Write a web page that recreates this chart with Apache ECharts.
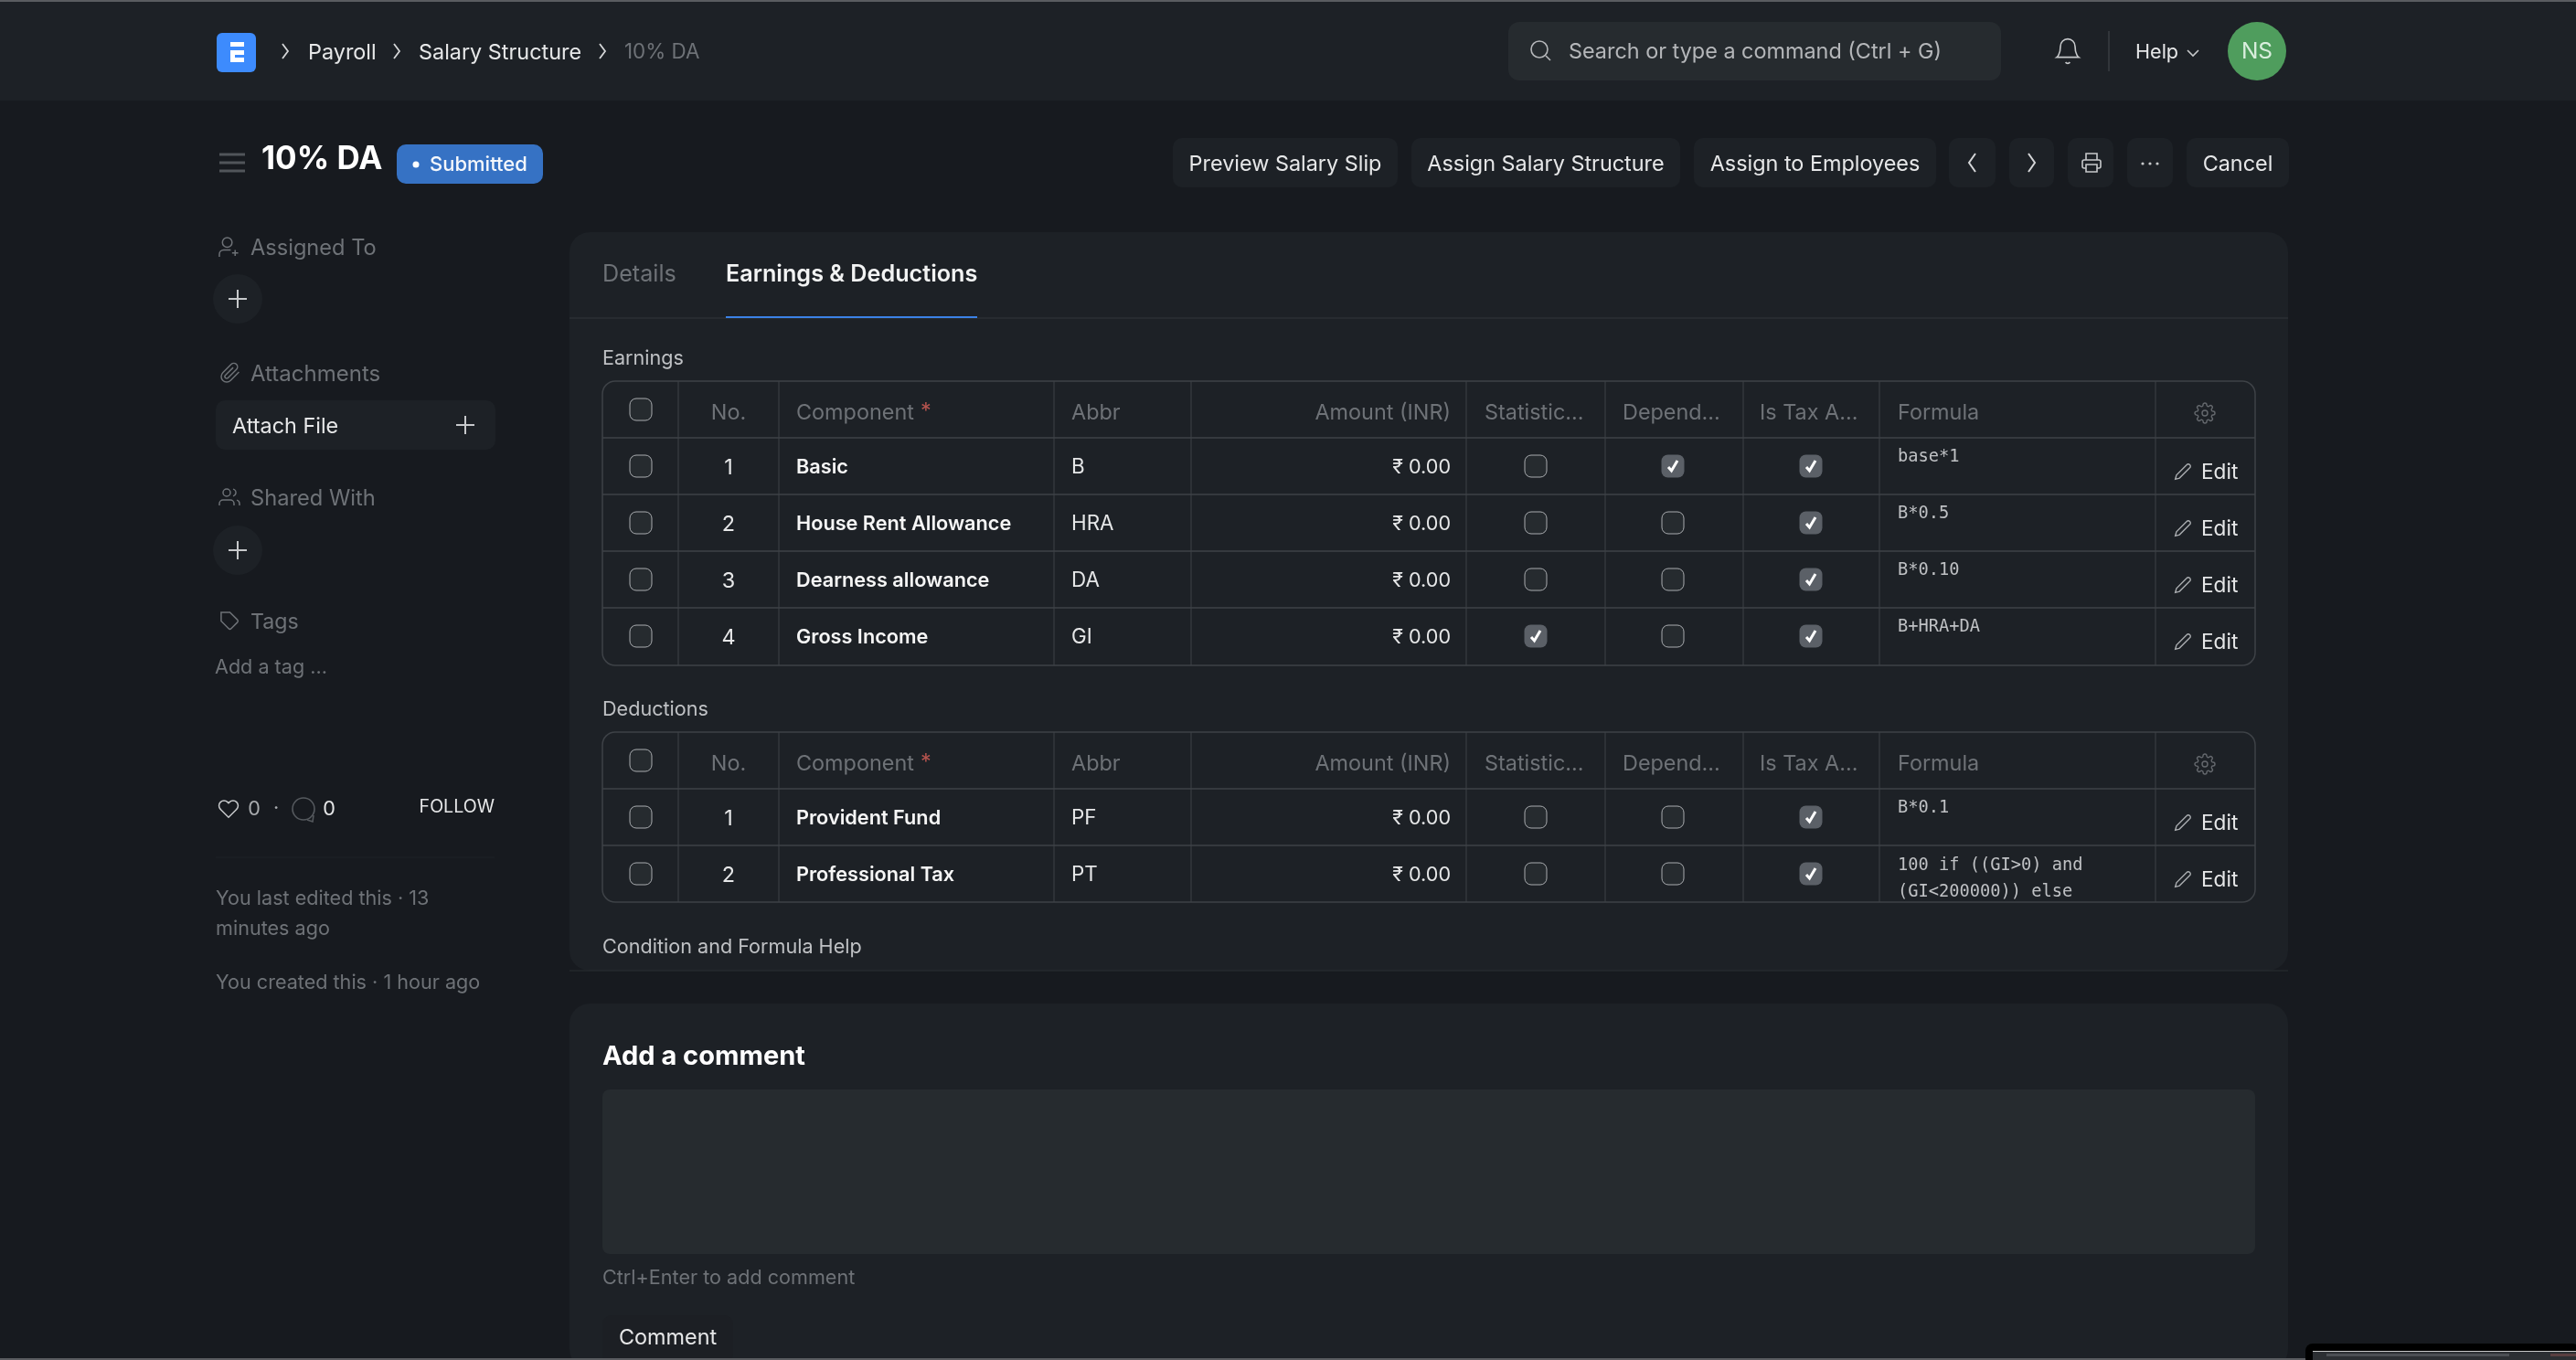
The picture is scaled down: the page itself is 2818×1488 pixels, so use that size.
<!DOCTYPE html>
<html>
<head>
	<meta charset="UTF-8">
	<title>10% DA</title>
	<style>
		html, body { margin: 0; padding: 0; background: #171a1f; overflow: hidden; }
		#main { width: 2818px; height: 1488px; }
	</style>
</head>
<body>
	<div id="main"></div>
	<script src="https://cdn.jsdelivr.net/npm/echarts@6/dist/echarts.min.js"></script>
	<script>
	// table text
	var tableHeaders = ['No.', 'Component', 'Abbr', 'Amount (INR)', 'Statistic...', 'Depend...', 'Is Tax A...', 'Formula'];

	var earningsNo = ['1', '2', '3', '4'];
	var earningsComponent = ['Basic', 'House Rent Allowance', 'Dearness allowance', 'Gross Income'];
	var earningsAbbr = ['B', 'HRA', 'DA', 'GI'];
	var earningsAmount = ['₹ 0.00', '₹ 0.00', '₹ 0.00', '₹ 0.00'];
	var earningsStatistic = [0, 0, 0, 1];
	var earningsDepend = [1, 0, 0, 0];
	var earningsTax = [1, 1, 1, 1];
	var earningsFormula = [['base*1'], ['B*0.5'], ['B*0.10'], ['B+HRA+DA']];

	var deductionsNo = ['1', '2'];
	var deductionsComponent = ['Provident Fund', 'Professional Tax'];
	var deductionsAbbr = ['PF', 'PT'];
	var deductionsAmount = ['₹ 0.00', '₹ 0.00'];
	var deductionsStatistic = [0, 0];
	var deductionsDepend = [0, 0];
	var deductionsTax = [1, 1];
	var deductionsFormula = [['B*0.1'], ['100 if ((GI>0) and', '(GI<200000)) else']];

	var breadcrumbs = ['Payroll', 'Salary Structure', '10% DA'];
	var toolbarButtons = ['Preview Salary Slip', 'Assign Salary Structure', 'Assign to Employees'];
	var sidebarLabels = ['Assigned To', 'Attachments', 'Shared With', 'Tags'];

	// colours
	var bgPage = '#171a1f', bgCard = '#1d2126', bgInput = '#262b2f', lineCol = '#3e4247';
	var textMain = '#e6e7e8', textMuted = '#6e7277', textSoft = '#bfc1c4', textWhite = '#f6f6f6';
	var sans = 'Inter, "Noto Sans", "DejaVu Sans", sans-serif';
	var mono = '"DejaVu Sans Mono", monospace';

	// icon outlines, all on a 24 unit box
	var iconPaths = {
		iconBell: 'M18 8A6 6 0 0 0 6 8c0 7-3 9-3 9h18s-3-2-3-9 M13.73 21a2 2 0 0 1-3.46 0',
		iconPrinter: 'M6 9V2h12v7 M6 18H4a2 2 0 0 1-2-2v-5a2 2 0 0 1 2-2h16a2 2 0 0 1 2 2v5a2 2 0 0 1-2 2h-2 M6 14h12v8H6z',
		iconPencil: 'M17 3a2.83 2.83 0 1 1 4 4L7.5 20.5 2 22l1.5-5.5L17 3z',
		iconClip: 'M21.44 11.05l-9.19 9.19a6 6 0 0 1-8.49-8.49l9.19-9.19a4 4 0 0 1 5.66 5.66l-9.2 9.19a2 2 0 0 1-2.83-2.83l8.49-8.48',
		iconTag: 'M20.59 13.41l-7.17 7.17a2 2 0 0 1-2.83 0L2 12V2h10l8.59 8.59a2 2 0 0 1 0 2.82z',
		iconHeart: 'M20.84 4.61a5.5 5.5 0 0 0-7.78 0L12 5.67l-1.06-1.06a5.5 5.5 0 0 0-7.78 7.78l1.06 1.06L12 21.23l7.78-7.78 1.06-1.06a5.5 5.5 0 0 0 0-7.78z',
		iconUsers: 'M17 21v-2a4 4 0 0 0-4-4H5a4 4 0 0 0-4 4v2 M9 3a4 4 0 1 0 0 8 4 4 0 0 0 0-8z M23 21v-2a4 4 0 0 0-3-3.87 M16 3.13a4 4 0 0 1 0 7.75',
		iconUser: 'M1 23v-3a5 5 0 0 1 5-5h8 M10 1a5 5 0 1 0 0 11 5 5 0 0 0 0-11z M19 15v7 M15.5 18.5h7',
		iconGear: 'M19.4 15a1.65 1.65 0 0 0 .33 1.82l.06.06a2 2 0 0 1 0 2.83 2 2 0 0 1-2.83 0l-.06-.06a1.65 1.65 0 0 0-1.82-.33 1.65 1.65 0 0 0-1 1.51V21a2 2 0 0 1-2 2 2 2 0 0 1-2-2v-.09A1.65 1.65 0 0 0 9 19.4a1.65 1.65 0 0 0-1.82.33l-.06.06a2 2 0 0 1-2.83 0 2 2 0 0 1 0-2.83l.06-.06a1.65 1.65 0 0 0 .33-1.82 1.65 1.65 0 0 0-1.51-1H3a2 2 0 0 1-2-2 2 2 0 0 1 2-2h.09A1.65 1.65 0 0 0 4.6 9a1.65 1.65 0 0 0-.33-1.82l-.06-.06a2 2 0 0 1 0-2.83 2 2 0 0 1 2.83 0l.06.06a1.65 1.65 0 0 0 1.82.33H9a1.65 1.65 0 0 0 1-1.51V3a2 2 0 0 1 2-2 2 2 0 0 1 2 2v.09a1.65 1.65 0 0 0 1 1.51 1.65 1.65 0 0 0 1.82-.33l.06-.06a2 2 0 0 1 2.83 0 2 2 0 0 1 0 2.83l-.06.06a1.65 1.65 0 0 0-.33 1.82V9a1.65 1.65 0 0 0 1.51 1H21a2 2 0 0 1 2 2 2 2 0 0 1-2 2h-.09a1.65 1.65 0 0 0-1.51 1z M12 9a3 3 0 1 0 0 6 3 3 0 0 0 0-6z'
	};
	for (var name in iconPaths) {
		echarts.graphic.registerShape(name, echarts.graphic.extendPath(iconPaths[name], {}));
	}

	var els = [];

	function txt(s, x, y, size, color, weight, align, family) {
		els.push({ type: 'text', z: 5, x: x, y: y + 1.5, style: {
			text: s, fill: color, font: (weight || 400) + ' ' + size + 'px ' + (family || sans),
			align: align || 'left', verticalAlign: 'middle'
		}});
	}
	function box(x, y, w, h, fill, r, stroke, lw) {
		els.push({ type: 'rect', z: 2, shape: { x: x, y: y, width: w, height: h, r: r || 0 },
			style: { fill: fill, stroke: stroke || null, lineWidth: lw || 0 } });
	}
	function seg(x1, y1, x2, y2, color, lw) {
		els.push({ type: 'line', z: 3, shape: { x1: x1, y1: y1, x2: x2, y2: y2 },
			style: { stroke: color, lineWidth: lw || 1 } });
	}
	function poly(points, color, lw) {
		els.push({ type: 'polyline', z: 4, shape: { points: points },
			style: { stroke: color, lineWidth: lw || 2, fill: null } });
	}
	function icon(kind, x, y, w, h, color, lw) {
		var sx = w / 24, sy = h / 24;
		els.push({ type: kind, z: 4, x: x, y: y, scaleX: sx, scaleY: sy,
			style: { fill: null, stroke: color, lineWidth: (lw || 1.5) / ((sx + sy) / 2) } });
	}
	function circle(cx, cy, r, fill, stroke, lw) {
		els.push({ type: 'circle', z: 3, shape: { cx: cx, cy: cy, r: r },
			style: { fill: fill, stroke: stroke || null, lineWidth: lw || 0 } });
	}
	function plus(cx, cy, half, color) {
		seg(cx - half, cy, cx + half, cy, color, 2);
		seg(cx, cy - half, cx, cy + half, color, 2);
	}
	function checkbox(cx, cy, on) {
		if (on) {
			box(cx - 12.5, cy - 12.5, 25, 25, '#5b6067', 7);
			poly([[cx - 5, cy + 1], [cx - 1.5, cy + 5], [cx + 5, cy - 6]], '#ffffff', 3);
		} else {
			box(cx - 12, cy - 12, 24, 24, '#262b2f', 7, '#a9acaf', 1);
		}
	}

	// table layout
	var colLines = [742, 852, 1153, 1303, 1604, 1756, 1907, 2056, 2358];
	var tableLeft = 659, tableRight = 2467;

	function drawTable(top, rowLines, no, comp, abbr, amount, stat, dep, tax, formula) {
		var bottom = rowLines[rowLines.length - 1];
		box(tableLeft, top, tableRight - tableLeft, bottom - top, bgCard, 14, lineCol, 1.5);
		for (var c = 0; c < colLines.length; c++) {
			seg(colLines[c], top, colLines[c], bottom, lineCol, 1);
		}
		for (var l = 0; l < rowLines.length - 1; l++) {
			seg(tableLeft, rowLines[l], tableRight, rowLines[l], lineCol, 1.5);
		}
		// header row
		var hy = top + 33;
		checkbox(701, top + 31, false);
		txt(tableHeaders[0], 797, hy, 23.4, textMuted, 400, 'center');
		txt(tableHeaders[1], 871, hy, 23.4, textMuted);
		txt('*', 1007, hy - 2, 23.4, '#b5534e');
		txt(tableHeaders[2], 1172, hy, 23.4, textMuted);
		txt(tableHeaders[3], 1587, hy, 23.4, textMuted, 400, 'right');
		txt(tableHeaders[4], 1624, hy, 23.4, textMuted);
		txt(tableHeaders[5], 1775, hy, 23.4, textMuted);
		txt(tableHeaders[6], 1925, hy, 23.4, textMuted);
		txt(tableHeaders[7], 2076, hy, 23.4, textMuted);
		icon('iconGear', 2400, top + 23, 24, 24, '#65696e', 1.4);
		// body rows
		for (var i = 0; i < no.length; i++) {
			var rt = rowLines[i];
			var cy = rt + 31;
			checkbox(701, cy, false);
			txt(no[i], 797, cy, 23.4, textMain, 400, 'center');
			txt(comp[i], 871, cy, 21.7, textWhite, 600);
			txt(abbr[i], 1172, cy, 22.4, textMain);
			txt(amount[i], 1587, cy, 21.6, textMain, 400, 'right');
			checkbox(1680, cy, stat[i]);
			checkbox(1830, cy, dep[i]);
			checkbox(1981, cy, tax[i]);
			var lines = formula[i];
			if (lines.length == 1) {
				txt(lines[0], 2076, rt + 20, 18.7, textSoft, 400, 'left', mono);
			} else {
				txt(lines[0], 2076, rt + 21, 18.7, textSoft, 400, 'left', mono);
				txt(lines[1], 2076, rt + 50, 18.7, textSoft, 400, 'left', mono);
			}
			icon('iconPencil', 2378, rt + 27, 20, 20, '#a9acaf', 1.4);
			txt('Edit', 2408, rt + 37, 22.6, textMain);
		}
	}

	// top bar
	box(0, 0, 2818, 110, bgCard);
	box(0, 0, 2818, 2, '#5a5c60');
	box(237, 36, 43, 43, '#3d8bfd', 6);
	box(252, 46, 15, 5, '#ffffff');
	box(252, 55, 15, 5, '#ffffff');
	box(252, 55, 5, 13, '#ffffff');
	box(252, 63, 15, 5, '#ffffff');
	var crumbChevron = [312, 434, 659];
	for (var k = 0; k < 3; k++) {
		var cx = crumbChevron[k];
		poly([[cx - 3, 48], [cx + 3, 56], [cx - 3, 64]], '#d5d6d8', 1.8);
	}
	txt(breadcrumbs[0], 337, 56, 23.4, textMain);
	txt(breadcrumbs[1], 458, 56, 23.4, textMain);
	txt(breadcrumbs[2], 683, 56, 22.4, textMuted);

	box(1650, 24, 539, 64, bgInput, 12);
	circle(1684, 54, 9, null, '#b5b7ba', 1.6);
	seg(1691, 61, 1696, 66, '#b5b7ba', 1.6);
	txt('Search or type a command (Ctrl + G)', 1716, 55, 23.4, '#b4b6b9');
	icon('iconBell', 2246, 40, 32, 32, '#c7c9cb', 1.6);
	seg(2307, 34, 2307, 78, '#3a3e43', 1.5);
	txt('Help', 2336, 56, 21.6, textMain);
	poly([[2393, 55], [2399, 61], [2405, 55]], '#c7c9cb', 1.6);
	circle(2469, 56, 32, '#4f9d5d');
	txt('NS', 2469, 55.5, 24.5, '#d9eedd', 400, 'center');

	// title row
	seg(240, 169, 268, 169, '#51555a', 3);
	seg(240, 178, 268, 178, '#51555a', 3);
	seg(240, 187, 268, 187, '#51555a', 3);
	txt('10% DA', 286, 173, 35, '#ffffff', 700);
	box(434, 158, 160, 43, '#3672c4', 10);
	circle(455, 180, 3.5, '#ffffff');
	txt('Submitted', 470, 178.5, 22, '#f4f7fb', 500);

	var btnX = [1283, 1544, 1853];
	var btnW = [246, 294, 265];
	for (var b = 0; b < toolbarButtons.length; b++) {
		box(btnX[b], 151, btnW[b], 54, bgCard, 10);
		txt(toolbarButtons[b], btnX[b] + btnW[b] / 2, 178, 23.4, textMain, 400, 'center');
	}
	box(2132, 151, 51, 54, bgCard, 10);
	box(2198, 151, 49, 54, bgCard, 10);
	box(2262, 151, 50, 54, bgCard, 10);
	box(2327, 151, 50, 54, bgCard, 10);
	box(2392, 151, 112, 54, bgCard, 10);
	poly([[2161, 168], [2154, 178], [2161, 188]], '#d5d6d8', 2);
	poly([[2219, 168], [2226, 178], [2219, 188]], '#d5d6d8', 2);
	icon('iconPrinter', 2276, 166, 24, 24, '#c7c9cb', 1.6);
	circle(2344, 179, 1.6, '#c7c9cb');
	circle(2352, 179, 1.6, '#c7c9cb');
	circle(2360, 179, 1.6, '#c7c9cb');
	txt('Cancel', 2448, 178, 23.4, textMain, 400, 'center');

	// sidebar
	icon('iconUser', 239, 259, 23, 23, textMuted, 1.5);
	txt(sidebarLabels[0], 274, 270, 23.6, textMuted);
	circle(260, 327, 27, bgCard);
	plus(260, 327, 10, '#c7c9cb');
	icon('iconClip', 240, 396, 24, 24, textMuted, 1.5);
	txt(sidebarLabels[1], 274, 408, 24, textMuted);
	box(236, 438, 306, 54, bgCard, 10);
	txt('Attach File', 254, 465, 23.4, textMain);
	plus(509, 465, 10, '#c7c9cb');
	icon('iconUsers', 239, 532, 24, 24, textMuted, 1.5);
	txt(sidebarLabels[2], 274, 544, 23.7, textMuted);
	circle(260, 602, 27, bgCard);
	plus(260, 602, 10, '#c7c9cb');
	icon('iconTag', 240, 668, 23, 23, textMuted, 1.5);
	txt(sidebarLabels[3], 274, 680, 23.2, textMuted);
	txt('Add a tag ...', 235, 729, 21.6, textMuted);

	icon('iconHeart', 238, 873, 24, 24, '#c7c9cb', 1.5);
	txt('0', 278, 884, 21.6, '#a9acaf', 400, 'center');
	txt('·', 302, 883, 21.6, '#a9acaf', 400, 'center');
	circle(332, 885, 12, null, '#55595e', 1.6);
	poly([[336, 897], [342, 899], [343, 892]], '#55595e', 1.6);
	txt('0', 360, 884, 21.6, textMain, 400, 'center');
	txt('FOLLOW', 541, 882, 19.6, textMain, 400, 'right');
	seg(236, 938, 541, 938, '#1f2328', 1);
	txt('You last edited this · 13', 236, 982, 21.6, textMuted);
	txt('minutes ago', 236, 1015, 21.6, textMuted);
	txt('You created this · 1 hour ago', 236, 1074, 21.6, textMuted);

	// main card
	box(623, 254, 1880, 808, bgCard, 22);
	seg(623, 1062, 2503, 1062, '#2a2e33', 1);
	seg(623, 348, 2503, 348, '#272b30', 2);
	txt('Details', 659, 299, 25.2, textMuted);
	txt('Earnings & Deductions', 794, 299, 25.2, '#f2f3f3', 600);
	seg(794, 347, 1069, 347, '#3b82e6', 2);
	txt('Earnings', 659, 390.5, 21.6, textSoft);
	drawTable(417, [479, 541, 603, 665, 728], earningsNo, earningsComponent, earningsAbbr, earningsAmount,
		earningsStatistic, earningsDepend, earningsTax, earningsFormula);
	txt('Deductions', 659, 775, 21.6, textSoft);
	drawTable(801, [863, 925, 987], deductionsNo, deductionsComponent, deductionsAbbr, deductionsAmount,
		deductionsStatistic, deductionsDepend, deductionsTax, deductionsFormula);
	txt('Condition and Formula Help', 659, 1034.5, 21.6, textSoft);

	// comment card
	box(623, 1098, 1880, 400, bgCard, 22);
	txt('Add a comment', 659, 1155, 29, '#ffffff', 700);
	box(659, 1192, 1808, 180, bgInput, 8);
	txt('Ctrl+Enter to add comment', 659, 1396.5, 21.6, textMuted);
	box(659, 1439, 143, 52, '#1c1f24', 10);
	txt('Comment', 677, 1462, 23.4, textMain);

	// bottom edge and window thumbnail
	box(0, 1486, 2818, 2, '#5a5c60');
	box(2522, 1470, 300, 24, '#000000', 8);
	box(2530, 1478, 288, 1, '#c8c8c8');
	box(2530, 1479, 288, 9, '#2c2f33');
	box(2545, 1481, 200, 3, '#4c4f54');
	box(2790, 1481, 28, 3, '#5a3f40');

	var myChart = echarts.init(document.getElementById('main'), null, { renderer: 'canvas' });
	myChart.setOption({
		backgroundColor: bgPage,
		animation: false,
		graphic: { elements: els }
	});
	</script>
</body>
</html>
